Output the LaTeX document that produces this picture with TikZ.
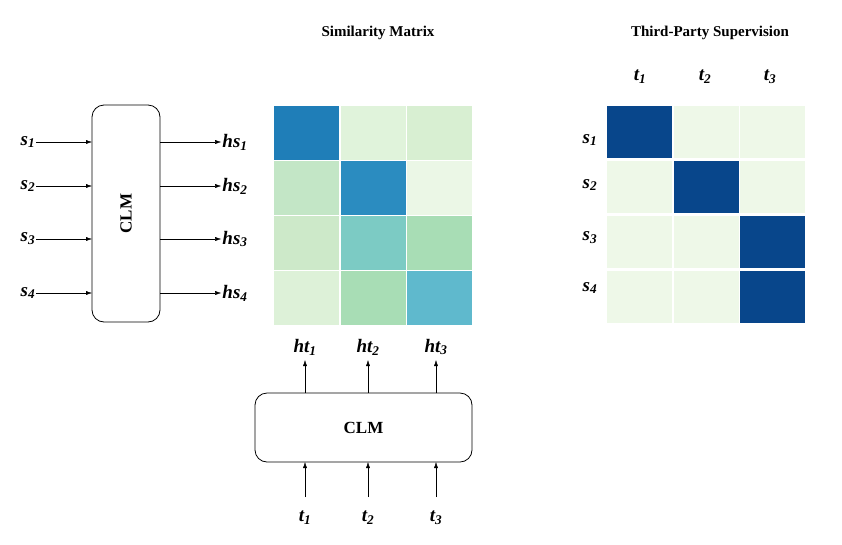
\documentclass[tikz,border=0pt]{standalone}
\usepackage{fontspec}
\setmainfont{Liberation Serif}
\usetikzlibrary{arrows.meta}
\definecolor{a1}{HTML}{1F7EB8}\definecolor{a2}{HTML}{E0F3DB}\definecolor{a3}{HTML}{D8EFD2}
\definecolor{b1}{HTML}{C3E6C6}\definecolor{b2}{HTML}{2B8CC0}\definecolor{b3}{HTML}{EBF7E6}
\definecolor{c1}{HTML}{CDE9C9}\definecolor{c2}{HTML}{7CCBC4}\definecolor{c3}{HTML}{A8DDB5}
\definecolor{d1}{HTML}{DDF1D8}\definecolor{d2}{HTML}{A8DDB5}\definecolor{d3}{HTML}{5FB9CD}
\definecolor{dk}{HTML}{08468B}\definecolor{lt}{HTML}{EEF8E8}
\begin{document}
\begin{tikzpicture}[x=1pt,y=-1pt,
  lab/.style={font=\bfseries\itshape\fontsize{19}{19}\selectfont, inner sep=1pt},
  ttl/.style={font=\bfseries\fontsize{15}{15}\selectfont},
  box/.style={draw,thick,rounded corners=12pt,fill=white},
  arr/.style={-{Latex[length=6pt,width=4pt]},thin}]
\useasboundingbox (0,0) rectangle (842,544);
% left CLM
\node[box,minimum width=68pt,minimum height=217pt] (L) at (126,213.5) {};
\node[rotate=90,font=\bfseries\fontsize{17}{17}\selectfont] at (L) {CLM};
\foreach \i/\y in {1/142,2/186,3/239,4/293}{
  \node[lab] (s\i) at (28,\y) {s\textsubscript{\i}};
  \coordinate (si\i) at (92,\y);
  \draw[arr] (s\i.east) -- (si\i);
  \coordinate (so\i) at (160,\y);
  \node[lab] (hs\i) at (235,\y) {hs\textsubscript{\i}};
  \draw[arr] (so\i) -- (hs\i.west);
}
% similarity matrix
\foreach \r/\ya in {a/105,b/160,c/215,d/270}{
  \foreach \c/\xa in {1/273,2/340,3/406}{
    \fill[\r\c,draw=white,line width=1pt] (\xa,\ya) rectangle ++(66.3,55);
  }}
\node[ttl] (t1t) at (378,33) {Similarity Matrix};
% bottom CLM
\node[box,minimum width=217pt,minimum height=69pt] (B) at (363.5,427.5) {};
\node[font=\bfseries\fontsize{17}{17}\selectfont] at (B) {CLM};
\foreach \i/\x in {1/305,2/368,3/436}{
  \node[lab] (ht\i) at (\x,347) {ht\textsubscript{\i}};
  \coordinate (bo\i) at (\x,393);
  \draw[arr] (bo\i) -- (\x,360);
  \node[lab] (t\i) at (\x,518) {t\textsubscript{\i}};
  \coordinate (bi\i) at (\x,462);
  \draw[arr] (\x,497) -- (bi\i);
}
\node[font=\fontsize{36}{36}\selectfont] (sim) at (525,212) {\char"223C};
% third party
\node[ttl] (t2t) at (710,33) {Third-Party Supervision};
\foreach \r/\ya in {1/105,2/160,3/215,4/270}{
  \foreach \c/\xa in {1/606,2/673,3/739}{
    \fill[lt,draw=white,line width=1pt] (\xa,\ya) rectangle ++(66.3,53.5);
  }}
\fill[dk,draw=white,line width=1pt] (606,105) rectangle ++(66.3,53.5);
\fill[dk,draw=white,line width=1pt] (673,160) rectangle ++(66.3,53.5);
\fill[dk,draw=white,line width=1pt] (739,215) rectangle ++(66.3,53.5);
\fill[dk,draw=white,line width=1pt] (739,270) rectangle ++(66.3,53.5);
\foreach \i/\x in {1/640,2/705,3/770}{\node[lab] (tt\i) at (\x,77) {t\textsubscript{\i}};}
\foreach \i/\y in {1/140,2/185,3/238,4/288}{\node[lab] (ss\i) at (590,\y) {s\textsubscript{\i}};}
\end{tikzpicture}
\end{document}
